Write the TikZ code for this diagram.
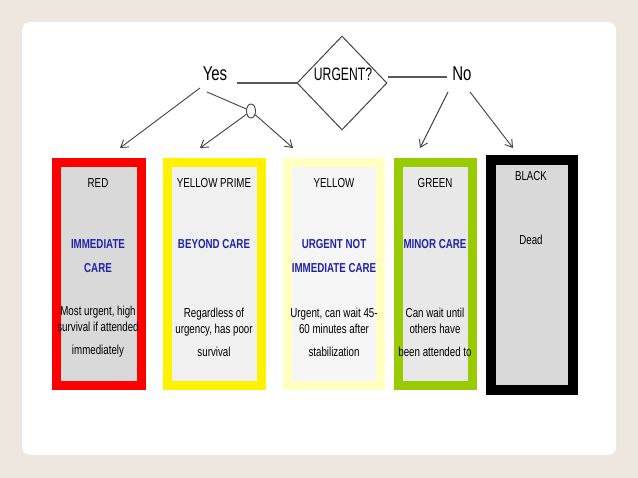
\documentclass[tikz,border=0pt]{standalone}
\usepackage{fontspec}
\setmainfont{Liberation Sans}[FakeStretch=0.75]
\usetikzlibrary{shapes.geometric,arrows.meta}
\definecolor{bg}{HTML}{EDE7DF}
\definecolor{tblue}{HTML}{2222AA}
\definecolor{lyel}{HTML}{FFFFC0}
\definecolor{grn}{HTML}{99CC00}
\begin{document}
\begin{tikzpicture}[x=1pt,y=-1pt,
  box/.style={draw,line width=9pt,minimum width=#1,anchor=north west,inner sep=0pt,outer sep=0pt},
  lbl/.style={font=\fontsize{13}{15}\selectfont,align=center},
  blu/.style={lbl,text=tblue,font=\fontsize{13}{24}\selectfont\bfseries},
  dsc/.style={lbl,font=\fontsize{13}{23}\selectfont},
  big/.style={font=\fontsize{20}{20}\selectfont},
  arr/.style={draw=black!75,line width=0.9pt,-{Straight Barb[length=7pt,width=9pt]}},
  ln/.style={draw=black!65,line width=2pt}]
\useasboundingbox (0,0) rectangle (638,478);
\fill[bg] (0,0) rectangle (638,478);
\fill[white,rounded corners=8pt] (22,22) rectangle (616,455);
% diamond
\node[diamond,draw=black!75,line width=1pt,minimum width=90pt,minimum height=94pt,inner sep=0pt] (d) at (342,83) {};
\node[big,font=\fontsize{18}{18}\selectfont,xscale=0.9] (u) at (343,74) {URGENT?};
\node[big] (yes) at (215,74) {Yes};
\node[big] (no) at (462,74) {No};
\coordinate (yl1) at (237,83); \coordinate (yl2) at (297,83);
\coordinate (nl1) at (388,77); \coordinate (nl2) at (447,77);
\draw[ln] (yl1) -- (yl2);
\draw[ln] (nl1) -- (nl2);
\node[ellipse,draw=black!75,line width=0.9pt,minimum width=9pt,minimum height=14pt,inner sep=0pt] (o) at (251,111) {};
\coordinate (t1) at (120,148); \coordinate (t2) at (200,148);
\coordinate (t3) at (293,148); \coordinate (t4) at (420,148);
\coordinate (t5) at (513,148);
\draw[arr] (200,88) -- (t1);
\draw[draw=black!75,line width=0.9pt] (207,92) -- (o);
\draw[arr] (o) -- (t2);
\draw[arr] (o) -- (t3);
\draw[arr] (448,92) -- (t4);
\draw[arr] (470,92) -- (t5);
% boxes
\node[box=84.5pt,minimum height=223.5pt,draw=red,fill=black!15] (r) at (56.5,162.5) {};
\node[box=94pt,minimum height=223.5pt,draw=yellow,fill=black!6] (yp) at (167.5,162.5) {};
\node[box=93pt,minimum height=223.5pt,draw=lyel,fill=black!4] (y) at (287.5,162.5) {};
\node[box=74pt,minimum height=223.5pt,draw=grn,fill=black!9] (g) at (398.5,162.5) {};
\node[box=82pt,minimum height=230pt,line width=10pt,draw=black,fill=black!15] (b) at (491,160) {};
\foreach \n/\x/\t in {r/98/RED,yp/214/YELLOW PRIME,y/334/YELLOW,g/435/GREEN}
  \node[lbl] (\n t) at (\x,183) {\t};
\node[lbl] (bt) at (531,176) {BLACK};
\node[blu] (rb) at (98,256) {IMMEDIATE\\CARE};
\node[blu] (ypb) at (214,244) {BEYOND CARE};
\node[blu] (yb) at (334,256) {URGENT NOT\\IMMEDIATE CARE};
\node[blu] (gb) at (435,244) {MINOR CARE};
\node[lbl] (bd) at (531,240) {Dead};
\node[dsc] (rd) at (98,332) {Most urgent, high\\[-7pt]survival if attended\\immediately};
\node[dsc] (ypd) at (214,332) {Regardless of\\[-7pt]urgency, has poor\\survival};
\node[dsc] (yd) at (334,332) {Urgent, can wait 45-\\[-7pt]60 minutes after\\stabilization};
\node[dsc] (gd) at (435,332) {Can wait until\\[-7pt]others have\\been attended to};
\end{tikzpicture}
\end{document}
